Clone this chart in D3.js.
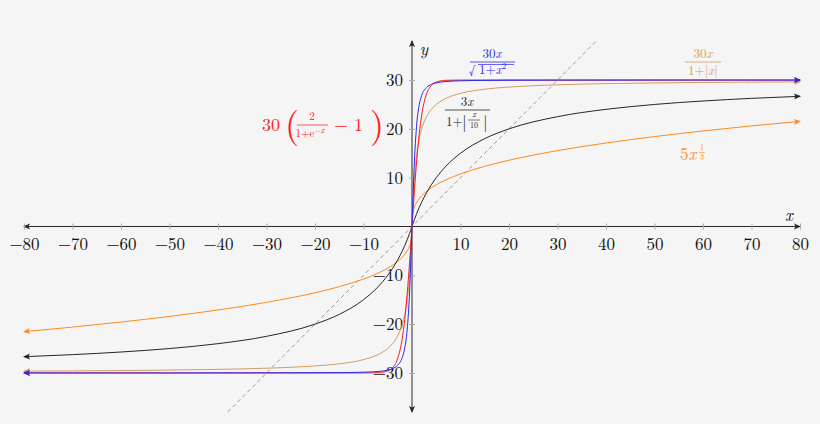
<!DOCTYPE html>
<html>
<head>
<meta charset="utf-8">
<script src="https://cdn.jsdelivr.net/npm/d3@7"></script>
<style>
  body { margin: 0; background: #f5f5f5; }
  svg { display: block; }
</style>
</head>
<body>
<svg width="820" height="424"></svg>
<script>
// sample x positions shared by every curve
var xs = [-80, -70, -60, -50, -40, -30, -20, -15, -10, -7, -5, -4, -3, -2, -1.5, -1, -0.5, -0.25, -0.1,
          0, 0.1, 0.25, 0.5, 1, 1.5, 2, 3, 4, 5, 7, 10, 15, 20, 30, 40, 50, 60, 70, 80];

// 30x / sqrt(1+x^2)
var blueY = [-30, -30, -30, -30, -29.99, -29.98, -29.96, -29.93, -29.85, -29.7, -29.42, -29.1, -28.46, -26.83, -24.96, -21.21, -13.42, -7.28, -2.99,
             0, 2.99, 7.28, 13.42, 21.21, 24.96, 26.83, 28.46, 29.1, 29.42, 29.7, 29.85, 29.93, 29.96, 29.98, 29.99, 30, 30, 30, 30];
// 30(2/(1+e^-x) - 1)
var redY = [-30, -30, -30, -30, -30, -30, -30, -30, -30, -29.95, -29.6, -28.92, -27.15, -22.85, -19.05, -13.86, -7.35, -3.73, -1.5,
            0, 1.5, 3.73, 7.35, 13.86, 19.05, 22.85, 27.15, 28.92, 29.6, 29.95, 30, 30, 30, 30, 30, 30, 30, 30, 30];
// 30x / (1+|x|)
var tanY = [-29.63, -29.58, -29.51, -29.41, -29.27, -29.03, -28.57, -28.13, -27.27, -26.25, -25, -24, -22.5, -20, -18, -15, -10, -6, -2.73,
            0, 2.73, 6, 10, 15, 18, 20, 22.5, 24, 25, 26.25, 27.27, 28.13, 28.57, 29.03, 29.27, 29.41, 29.51, 29.58, 29.63];
// 3x / (1+|x/10|)
var blackY = [-26.67, -26.25, -25.71, -25, -24, -22.5, -20, -18, -15, -12.35, -10, -8.57, -6.92, -5, -3.91, -2.73, -1.43, -0.73, -0.3,
              0, 0.3, 0.73, 1.43, 2.73, 3.91, 5, 6.92, 8.57, 10, 12.35, 15, 18, 20, 22.5, 24, 25, 25.71, 26.25, 26.67];
// 5x^(1/3)
var orangeY = [-21.54, -20.61, -19.57, -18.42, -17.1, -15.54, -13.57, -12.33, -10.77, -9.56, -8.55, -7.94, -7.21, -6.3, -5.72, -5, -3.97, -3.15, -2.32,
               0, 2.32, 3.15, 3.97, 5, 5.72, 6.3, 7.21, 7.94, 8.55, 9.56, 10.77, 12.33, 13.57, 15.54, 17.1, 18.42, 19.57, 20.61, 21.54];

// y = x guide
var diagX = [-38, 38];
var diagY = [-38, 38];

var xTicks = [-80, -70, -60, -50, -40, -30, -20, -10, 10, 20, 30, 40, 50, 60, 70, 80];
var yTicks = [-30, -20, -10, 10, 20, 30];

var FONT = "'Latin Modern Roman', 'Liberation Serif', serif";

var svg = d3.select("svg");

var x = d3.scaleLinear().domain([-80, 80]).range([24, 800]);
var y = d3.scaleLinear().domain([-38, 38]).range([412, 41]);

var colors = {
    axis: "#2a2a2a",
    blue: "#2828f4",
    red: "#ff1a1a",
    tan: "#d69a62",
    black: "#262626",
    orange: "#ff8a1c",
    diag: "#9a9a9a"
};

// arrow heads
var defs = svg.append("defs");
Object.keys(colors).forEach(function(k) {
    defs.append("marker")
        .attr("id", "arr-" + k)
        .attr("viewBox", "-7 -4 8 8")
        .attr("refX", 0)
        .attr("refY", 0)
        .attr("markerUnits", "userSpaceOnUse")
        .attr("markerWidth", 8)
        .attr("markerHeight", 8)
        .attr("orient", "auto-start-reverse")
        .append("path")
        .attr("d", "M-6,-3 L1,0 L-6,3 L-4.5,0 Z")
        .attr("fill", colors[k]);
});

// axes
svg.append("line")
    .attr("x1", x(-80)).attr("x2", x(80))
    .attr("y1", y(0)).attr("y2", y(0))
    .attr("stroke", colors.axis).attr("stroke-width", 1)
    .attr("marker-start", "url(#arr-axis)")
    .attr("marker-end", "url(#arr-axis)");

svg.append("line")
    .attr("x1", x(0)).attr("x2", x(0))
    .attr("y1", y(-38)).attr("y2", y(38))
    .attr("stroke", colors.axis).attr("stroke-width", 1)
    .attr("marker-start", "url(#arr-axis)")
    .attr("marker-end", "url(#arr-axis)");

function signed(d) { return d < 0 ? "\u2212" + (-d) : d; }

var xAxis = svg.append("g")
    .attr("transform", "translate(0," + y(0) + ")")
    .call(d3.axisBottom(x).tickValues(xTicks).tickSize(0).tickPadding(11).tickFormat(signed));
xAxis.select(".domain").remove();
xAxis.selectAll("text").style("font-family", FONT).style("font-size", "17px").attr("fill", "#111");
xAxis.selectAll(".tick").append("line")
    .attr("y1", -3).attr("y2", 3).attr("stroke", "#aaa");

var yAxis = svg.append("g")
    .attr("transform", "translate(" + x(0) + ",0)")
    .call(d3.axisLeft(y).tickValues(yTicks).tickSize(0).tickPadding(9).tickFormat(signed));
yAxis.select(".domain").remove();
yAxis.selectAll("text").style("font-family", FONT).style("font-size", "17px").attr("fill", "#111");
yAxis.selectAll(".tick").append("line")
    .attr("x1", -3).attr("x2", 3).attr("stroke", "#aaa");

// y = x dashed guide
svg.append("path")
    .datum(d3.zip(diagX, diagY))
    .attr("d", d3.line().x(function(d) { return x(d[0]); }).y(function(d) { return y(d[1]); }))
    .attr("fill", "none")
    .attr("stroke", colors.diag)
    .attr("stroke-width", 1)
    .attr("stroke-dasharray", "4,3");

// curves
var line = d3.line()
    .x(function(d) { return x(d[0]); })
    .y(function(d) { return y(d[1]); })
    .curve(d3.curveMonotoneX);

var series = [
    { key: "orange", vals: orangeY },
    { key: "black", vals: blackY },
    { key: "tan", vals: tanY },
    { key: "red", vals: redY },
    { key: "blue", vals: blueY }
];

series.forEach(function(s) {
    svg.append("path")
        .datum(d3.zip(xs, s.vals))
        .attr("d", line)
        .attr("fill", "none")
        .attr("stroke", colors[s.key])
        .attr("stroke-width", 1)
        .attr("marker-start", "url(#arr-" + s.key + ")")
        .attr("marker-end", "url(#arr-" + s.key + ")");
});

// little helper for math-ish text: parts are [string, italic, dy, size]
function tex(g, px, py, parts, size, color, anchor) {
    var t = g.append("text")
        .attr("x", px).attr("y", py)
        .style("font-family", FONT)
        .style("font-size", size + "px")
        .attr("fill", color)
        .attr("text-anchor", anchor || "middle");
    parts.forEach(function(p) {
        var ts = t.append("tspan").text(p[0]);
        if (p[1]) ts.style("font-style", "italic");
        if (p[2]) ts.attr("dy", p[2]);
        if (p[3]) ts.style("font-size", p[3] + "px");
    });
    return t;
}

function rule(g, x1, x2, yy, color, w) {
    g.append("line").attr("x1", x1).attr("x2", x2).attr("y1", yy).attr("y2", yy)
        .attr("stroke", color).attr("stroke-width", w || 0.8);
}

var lab = svg.append("g");

// axis names
tex(lab, 424, 55, [["y", true]], 17, "#111");
tex(lab, 789, 221, [["x", true]], 17, "#111");

// blue: 30x / sqrt(1+x^2)
tex(lab, 492, 58, [["30"], ["x", true]], 13, colors.blue);
rule(lab, 470, 515, 62, colors.blue);
tex(lab, 469, 75, [["\u221A"]], 13, colors.blue, "start");
rule(lab, 478, 514, 64.5, colors.blue, 0.7);
tex(lab, 479, 74, [["1+"], ["x", true], ["2", false, -5, 9]], 13, colors.blue, "start");

// tan: 30x / (1+|x|)
tex(lab, 703, 58, [["30"], ["x", true]], 13, colors.tan);
rule(lab, 685, 721, 62, colors.tan);
tex(lab, 703, 75, [["1+|"], ["x", true], ["|"]], 13, colors.tan);

// black: 3x / (1+|x/10|)
tex(lab, 467, 106, [["3"], ["x", true]], 13, colors.black);
rule(lab, 445, 490, 110, colors.black);
tex(lab, 446, 126, [["1+"]], 13, colors.black, "start");
tex(lab, 462, 128, [["|"]], 17, colors.black, "start");
tex(lab, 474, 117, [["x", true]], 8, colors.black);
rule(lab, 468, 480, 120, colors.black, 0.6);
tex(lab, 474, 128, [["10"]], 8, colors.black);
tex(lab, 483, 128, [["|"]], 17, colors.black, "start");

// red: 30 (2/(1+e^-x) - 1)
tex(lab, 262, 131, [["30"]], 18, colors.red, "start");
tex(lab, 285, 137, [["("]], 36, colors.red, "start");
tex(lab, 312, 120, [["2"]], 11, colors.red);
rule(lab, 297, 328, 125, colors.red, 0.7);
tex(lab, 310, 137, [["1+e"], ["\u2212", false, -4, 8], ["x", true, 0, 8]], 11, colors.red);
tex(lab, 334, 131, [["\u2212 1"]], 18, colors.red, "start");
tex(lab, 370, 137, [[")"]], 36, colors.red, "start");

// orange: 5x^(1/3)
tex(lab, 680, 160, [["5"], ["x", true]], 17, colors.orange, "start");
tex(lab, 702, 150, [["1"]], 8, colors.orange);
rule(lab, 699, 705, 152.5, colors.orange, 0.6);
tex(lab, 702, 160, [["3"]], 8, colors.orange);
</script>
</body>
</html>
